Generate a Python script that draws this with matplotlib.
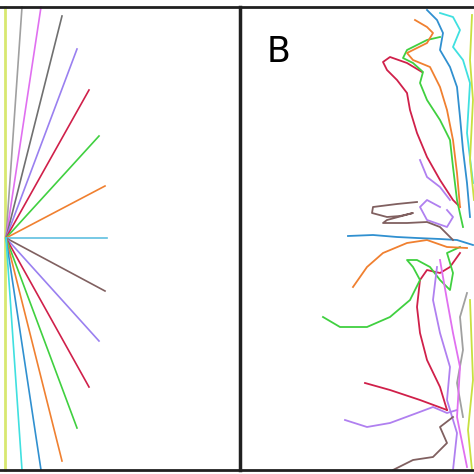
import matplotlib
matplotlib.use('Agg')
import matplotlib.pyplot as plt

# Panel A: straight rays from a common origin (pixel coordinates)
origin_a = (6, 238)
ray_ends = [(22, 7), (41, 7), (62, 16), (77, 49), (89, 90), (99, 136), (105, 186),
            (107, 238), (105, 291), (99, 341), (89, 387), (77, 428), (62, 461),
            (41, 470), (22, 470)]
ray_colors = ['#a0a0a0', '#e070f0', '#707070', '#9a80f0', '#d0204a', '#40d040', '#f08030',
              '#60c0e0', '#806060', '#9a80f0', '#d0204a', '#40d040', '#f08030',
              '#3090d0', '#40e0e0']

# Panel B: wavy traces (pixel coordinates)
curves_b = {
    '#d0204a': [[(422, 72), (407, 63), (390, 57), (383, 62), (387, 70), (397, 80), (407, 93),
                 (410, 110), (417, 133), (427, 157), (440, 180), (453, 200), (460, 207)],
                [(460, 253), (450, 267), (440, 273), (427, 270), (420, 280), (417, 307),
                 (420, 333), (427, 360), (440, 387), (447, 410)],
                [(365, 383), (390, 390), (420, 400), (447, 410)]],
    '#40d040': [[(440, 37), (427, 40), (407, 50), (403, 58), (413, 63), (423, 72), (420, 83),
                 (427, 100), (440, 120), (450, 140), (453, 167), (457, 200), (463, 227)],
                [(323, 317), (340, 327), (367, 327), (390, 317), (410, 300), (420, 280),
                 (413, 267), (407, 260), (417, 260), (430, 267), (440, 280), (450, 290),
                 (453, 273), (447, 253), (460, 247)]],
    '#f08030': [[(415, 20), (427, 27), (433, 33), (427, 43), (407, 53), (413, 60), (430, 67),
                 (440, 87), (447, 110), (453, 140), (457, 173), (460, 207)],
                [(353, 287), (367, 267), (383, 253), (407, 243), (427, 240), (447, 247), (467, 248)]],
    '#3090d0': [[(427, 10), (437, 20), (443, 33), (440, 50), (450, 67), (457, 87), (460, 117),
                 (463, 150), (467, 183), (470, 217)],
                [(348, 236), (373, 235), (397, 237), (417, 238), (440, 239), (457, 240), (473, 245)]],
    '#40e0e0': [[(440, 13), (453, 17), (460, 30), (453, 47), (463, 60), (470, 83), (467, 133),
                 (473, 183)]],
    '#c8e040': [[(472, 15), (470, 60), (473, 100), (470, 160), (474, 200)],
                [(470, 300), (473, 380), (468, 430), (472, 470)]],
    '#b080f0': [[(420, 160), (427, 177), (440, 187), (450, 200)],
                [(440, 207), (427, 200), (420, 207), (427, 220), (447, 227), (453, 217), (447, 210)],
                [(345, 420), (367, 427), (390, 423), (417, 413), (433, 407), (447, 413), (457, 410)],
                [(437, 267), (433, 300), (440, 333), (450, 367), (447, 400), (457, 433), (453, 470)]],
    '#806060': [[(417, 202), (397, 204), (373, 207), (372, 213), (387, 217), (400, 216),
                 (413, 213), (387, 220), (383, 223), (407, 223), (427, 222), (440, 227), (453, 240)],
                [(393, 470), (413, 460), (433, 457), (447, 443), (440, 427), (453, 417)]],
    '#a0a0a0': [[(467, 293), (460, 317), (463, 350), (457, 383), (463, 417)]],
    '#e070f0': [[(440, 260), (447, 300), (453, 333), (460, 367), (457, 417), (467, 467)]],
}

fig = plt.figure(figsize=(4.74, 4.74), dpi=100)
ax = fig.add_axes([0, 0, 1, 1])
ax.set_xlim(0, 474)
ax.set_ylim(474, 0)
ax.axis('off')

# panel A
ax.plot([5, 5], [7, 470], color='#d8e870', lw=2)
for (x, y), c in zip(ray_ends, ray_colors):
    ax.plot([origin_a[0], x], [origin_a[1], y], color=c, lw=1.2)

# panel B
for c, segs in curves_b.items():
    for seg in segs:
        xs, ys = zip(*seg)
        ax.plot(xs, ys, color=c, lw=1.3)

# frames
ax.plot([0, 474], [7, 7], color='#202020', lw=2)
ax.plot([0, 474], [470, 470], color='#202020', lw=2)
ax.plot([240, 240], [7, 470], color='#202020', lw=2.5)
ax.text(279, 52, 'B', fontsize=25, ha='center', va='center', family='DejaVu Sans')

fig.savefig('out.png', dpi=100)
